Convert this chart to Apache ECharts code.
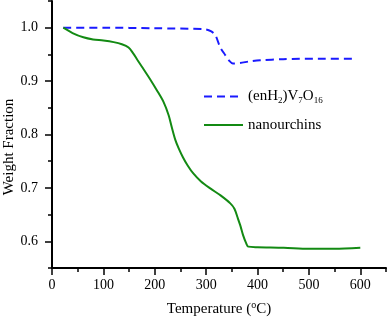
<!DOCTYPE html>
<html>
<head>
<meta charset="utf-8">
<script src="https://cdn.jsdelivr.net/npm/echarts@6/dist/echarts.min.js"></script>
<style>
  html, body { margin: 0; padding: 0; background: #fff; }
  #main { width: 387px; height: 317px; }
</style>
</head>
<body>
<div id="main"></div>
<script>
// TGA curves
var tempEnh = [22, 100, 200, 298, 310, 318, 327, 337, 345, 352, 366, 385, 405, 450, 520, 593];
var weightEnh = [1.000, 1.000, 0.999, 0.997, 0.993, 0.986, 0.964, 0.949, 0.938, 0.933, 0.934, 0.937, 0.939, 0.941, 0.942, 0.942];

var tempNano = [22, 40, 61, 80, 100, 120, 136, 149, 158, 166, 175, 190, 204, 217, 227, 233, 240, 247, 255, 264, 275, 290, 308, 328, 347, 355, 361, 367, 372, 378, 382, 400, 451, 500, 550, 600];
var weightNano = [1.000, 0.990, 0.982, 0.978, 0.976, 0.973, 0.969, 0.963, 0.952, 0.940, 0.927, 0.905, 0.883, 0.861, 0.836, 0.814, 0.790, 0.773, 0.757, 0.742, 0.727, 0.712, 0.699, 0.686, 0.671, 0.661, 0.645, 0.628, 0.611, 0.596, 0.590, 0.589, 0.588, 0.586, 0.586, 0.588];

var xTicks = [0, 100, 200, 300, 400, 500, 600];
var yTicks = [0.6, 0.7, 0.8, 0.9, 1.0];

var seriesNames = ['(enH2)V7O16', 'nanourchins'];

function pairs(xs, ys) {
    return xs.map(function (x, i) { return [x, ys[i]]; });
}

var font = 'Liberation Serif';
var myChart = echarts.init(document.getElementById('main'));

myChart.setOption({
    animation: false,
    backgroundColor: '#fff',
    grid: [
        // full frame: axis lines + minor ticks
        { left: 52, top: 1, width: 334, height: 267, containLabel: false, outerBoundsMode: 'none' },
        // labelled range: major ticks + labels
        { left: 52, top: 27.7, width: 308.3, height: 213.6, containLabel: false, outerBoundsMode: 'none' }
    ],
    xAxis: [
        {
            type: 'value', gridIndex: 0, min: 0, max: 650, interval: 50,
            axisLine: { lineStyle: { color: '#000', width: 2 } },
            axisTick: { length: 4, lineStyle: { color: '#000', width: 1.5 } },
            axisLabel: { show: false },
            splitLine: { show: false },
            name: 'Temperature ({sup|o}C)',
            nameLocation: 'middle',
            nameGap: 32,
            nameTextStyle: {
                fontFamily: font, fontSize: 15, color: '#000',
                rich: { sup: { fontFamily: font, fontSize: 10, color: '#000', verticalAlign: 'top', padding: [0, 0, 8, 0] } }
            }
        },
        {
            type: 'value', gridIndex: 1, min: xTicks[0], max: xTicks[xTicks.length - 1], interval: 100,
            offset: 26.7,
            axisLine: { show: false },
            axisTick: { length: 7, lineStyle: { color: '#000', width: 1.5 } },
            axisLabel: { margin: 10, fontFamily: font, fontSize: 14, color: '#000' },
            splitLine: { show: false }
        }
    ],
    yAxis: [
        {
            type: 'value', gridIndex: 0, min: 0.55, max: 1.05, interval: 0.05,
            axisLine: { lineStyle: { color: '#000', width: 2 } },
            axisTick: { length: 4, lineStyle: { color: '#000', width: 1.5 } },
            axisLabel: { show: false },
            splitLine: { show: false }
        },
        {
            type: 'value', gridIndex: 1, min: yTicks[0], max: yTicks[yTicks.length - 1], interval: 0.1,
            axisLine: { show: false },
            axisTick: { length: 7, lineStyle: { color: '#000', width: 1.5 } },
            axisLabel: {
                margin: 14, fontFamily: font, fontSize: 14, color: '#000',
                formatter: function (v) { return v.toFixed(1); }
            },
            splitLine: { show: false }
        }
    ],
    legend: {
        orient: 'vertical',
        left: 198,
        top: 84,
        itemWidth: 39,
        itemHeight: 14,
        itemGap: 12,
        data: seriesNames,
        itemStyle: { opacity: 0 },
        formatter: function (name) {
            return name === seriesNames[0] ? '(enH{sub|2})V{sub|7}O{sub|16}' : name;
        },
        textStyle: {
            fontFamily: font, fontSize: 15, color: '#000',
            rich: { sub: { fontFamily: font, fontSize: 9, color: '#000', padding: [9, 0, 0, 0] } }
        }
    },
    graphic: [{
        type: 'text',
        x: 9, y: 147,
        rotation: Math.PI / 2,
        style: {
            text: 'Weight Fraction',
            font: '15px "Liberation Serif"',
            fill: '#000',
            align: 'center',
            verticalAlign: 'middle'
        }
    }],
    series: [
        {
            name: seriesNames[0],
            type: 'line',
            xAxisIndex: 0, yAxisIndex: 0,
            data: pairs(tempEnh, weightEnh),
            smooth: 0.3,
            symbol: 'none',
            lineStyle: { color: '#1a1aff', width: 2, type: [8, 5] },
            itemStyle: { color: '#1a1aff' }
        },
        {
            name: seriesNames[1],
            type: 'line',
            xAxisIndex: 0, yAxisIndex: 0,
            data: pairs(tempNano, weightNano),
            smooth: 0.3,
            symbol: 'none',
            lineStyle: { color: '#138a13', width: 2 },
            itemStyle: { color: '#138a13' }
        }
    ]
});
</script>
</body>
</html>
